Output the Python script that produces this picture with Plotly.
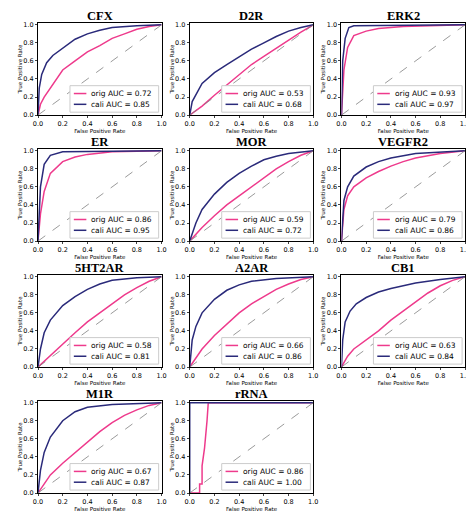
import plotly.graph_objects as go
from plotly.subplots import make_subplots

targets = ["CFX", "D2R", "ERK2", "ER", "MOR", "VEGFR2", "5HT2AR", "A2AR", "CB1", "M1R", "rRNA"]
orig_auc = [0.72, 0.53, 0.93, 0.86, 0.59, 0.79, 0.58, 0.66, 0.63, 0.67, 0.86]
cali_auc = [0.85, 0.68, 0.97, 0.95, 0.72, 0.86, 0.81, 0.86, 0.84, 0.87, 1.00]

# ROC curves: (fpr list, tpr list)
orig_roc = [
    ([0, .02, .05, .1, .15, .2, .3, .4, .5, .6, .7, .8, .9, 1], [0, .12, .2, .3, .4, .5, .6, .7, .77, .85, .9, .95, .98, 1]),
    ([0, .1, .2, .3, .4, .5, .6, .7, .8, .9, 1], [0, .1, .22, .33, .45, .56, .65, .74, .83, .92, 1]),
    ([0, .02, .05, .1, .2, .3, .5, 1], [0, .5, .75, .88, .93, .96, .98, 1]),
    ([0, .02, .05, .1, .2, .3, .4, .6, 1], [0, .3, .55, .75, .88, .93, .96, .99, 1]),
    ([0, .1, .2, .3, .4, .5, .6, .7, .8, .9, 1], [0, .15, .28, .4, .5, .6, .7, .8, .88, .95, 1]),
    ([0, .02, .05, .1, .2, .3, .4, .5, .6, .8, 1], [0, .35, .5, .6, .7, .77, .83, .88, .92, .97, 1]),
    ([0, .1, .2, .3, .4, .5, .6, .7, .8, .9, 1], [0, .13, .26, .38, .5, .6, .7, .8, .88, .95, 1]),
    ([0, .05, .1, .2, .3, .4, .5, .6, .7, .8, .9, 1], [0, .1, .2, .35, .48, .6, .7, .78, .86, .92, .97, 1]),
    ([0, .05, .1, .2, .3, .4, .5, .6, .7, .8, .9, 1], [0, .12, .2, .3, .4, .52, .62, .72, .82, .9, .96, 1]),
    ([0, .05, .1, .2, .3, .4, .5, .6, .7, .8, .9, 1], [0, .1, .2, .33, .45, .57, .68, .78, .86, .92, .97, 1]),
    ([0, .08, .08, .1, .1, .12, .14, .15, 1], [0, 0, .1, .1, .3, .5, .8, 1, 1]),
]
cali_roc = [
    ([0, .01, .03, .07, .12, .2, .3, .4, .5, .6, .8, 1], [0, .3, .45, .58, .66, .74, .84, .9, .94, .97, .99, 1]),
    ([0, .02, .1, .2, .3, .4, .5, .6, .7, .8, .9, 1], [0, .15, .35, .47, .56, .65, .73, .8, .87, .93, .97, 1]),
    ([0, .01, .03, .06, .1, 1], [0, .6, .85, .97, .99, 1]),
    ([0, .02, .05, .1, .2, 1], [0, .6, .85, .95, .99, 1]),
    ([0, .05, .1, .2, .3, .4, .5, .6, .7, .8, 1], [0, .2, .35, .52, .65, .75, .83, .9, .94, .97, 1]),
    ([0, .02, .05, .1, .2, .3, .4, .6, 1], [0, .45, .6, .72, .82, .88, .92, .97, 1]),
    ([0, .02, .05, .1, .2, .3, .4, .5, .6, .8, 1], [0, .2, .38, .52, .68, .78, .86, .92, .96, .99, 1]),
    ([0, .02, .05, .1, .2, .3, .4, .5, .7, 1], [0, .3, .45, .6, .75, .85, .91, .95, .98, 1]),
    ([0, .01, .03, .07, .12, .2, .3, .4, .6, .8, 1], [0, .3, .5, .62, .7, .77, .83, .87, .93, .97, 1]),
    ([0, .02, .05, .1, .2, .3, .4, .6, 1], [0, .25, .45, .62, .8, .9, .95, .98, 1]),
    ([0, 0, 1], [0, 1, 1]),
]
ticks = [0.0, 0.2, 0.4, 0.6, 0.8, 1.0]

pink = "#ee3a8c"
navy = "#2a2a7a"

fig = make_subplots(rows=4, cols=3, horizontal_spacing=0.066, vertical_spacing=0.072,
                    subplot_titles=targets)

for i, name in enumerate(targets):
    r, c = i // 3 + 1, i % 3 + 1
    fig.add_trace(go.Scatter(x=orig_roc[i][0], y=orig_roc[i][1], mode="lines",
                             line=dict(color=pink, width=1.5), name=f"orig AUC = {orig_auc[i]:.2f}"),
                  row=r, col=c)
    fig.add_trace(go.Scatter(x=cali_roc[i][0], y=cali_roc[i][1], mode="lines",
                             line=dict(color=navy, width=1.5), name=f"cali AUC = {cali_auc[i]:.2f}"),
                  row=r, col=c)
    fig.add_trace(go.Scatter(x=[0, 1], y=[0, 1], mode="lines",
                             line=dict(color="gray", width=0.8, dash="dash")), row=r, col=c)
    fig.update_xaxes(range=[0, 1], tickvals=ticks, ticktext=[f"{t:.1f}" for t in ticks],
                     title=dict(text="False Positive Rate", font=dict(size=5.5), standoff=0),
                     row=r, col=c)
    fig.update_yaxes(range=[0, 1.02], tickvals=ticks, ticktext=[f"{t:.1f}" for t in ticks],
                     title=dict(text="True Positive Rate", font=dict(size=5.5), standoff=0),
                     row=r, col=c)

fig.update_xaxes(showline=True, linecolor="black", linewidth=1, mirror=True, showgrid=False,
                 zeroline=False, ticks="outside", ticklen=2, tickfont=dict(size=6.5))
fig.update_yaxes(showline=True, linecolor="black", linewidth=1, mirror=True, showgrid=False,
                 zeroline=False, ticks="outside", ticklen=2, tickfont=dict(size=6.5))
fig.update_layout(showlegend=False)

# hand-drawn legend box in the lower right of every panel
W, H = 474 - 17 - 14, 514 - 15 - 20
for i in range(len(targets)):
    xa = fig.layout["xaxis" if i == 0 else f"xaxis{i + 1}"]
    ya = fig.layout["yaxis" if i == 0 else f"yaxis{i + 1}"]
    x1 = xa.domain[1] - 3 / W
    x0 = x1 - 92 / W
    y0 = ya.domain[0] + 3 / H
    y1 = y0 + 27 / H
    fig.add_shape(type="rect", xref="paper", yref="paper", x0=x0, x1=x1, y0=y0, y1=y1,
                  line=dict(color="#cccccc", width=1), fillcolor="white", layer="above")
    for j, (col, lab) in enumerate([(pink, f"orig AUC = {orig_auc[i]:.2f}"),
                                     (navy, f"cali AUC = {cali_auc[i]:.2f}")]):
        yy = y1 - (8 + 11 * j) / H
        fig.add_shape(type="line", xref="paper", yref="paper", x0=x0 + 4 / W, x1=x0 + 17 / W,
                      y0=yy, y1=yy, line=dict(color=col, width=1.5), layer="above")
        fig.add_annotation(xref="paper", yref="paper", x=x0 + 20 / W, y=yy, text=lab,
                           showarrow=False, xanchor="left", yanchor="middle",
                           font=dict(size=7.5, family="DejaVu Sans", color="black"))

for ann in fig.layout.annotations[:len(targets)]:
    ann.font = dict(family="Liberation Serif", size=12.5, color="black")
    ann.text = f"<b>{ann.text}</b>"
    ann.yshift = -2

fig.update_layout(width=474, height=514, margin=dict(l=17, r=14, t=15, b=20),
                  plot_bgcolor="white", paper_bgcolor="white",
                  font=dict(family="DejaVu Sans", color="black"))

fig.write_html("out.html")
